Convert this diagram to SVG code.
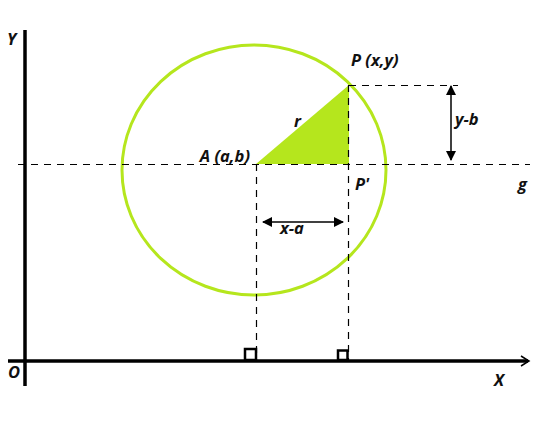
<svg xmlns="http://www.w3.org/2000/svg" width="539" height="432" viewBox="0 0 539 432">
<defs>
<style>
.lbl{font-family:"Open Sans","DejaVu Sans",sans-serif;font-style:italic;font-weight:bold;font-size:16.5px;fill:#111}
.dash{stroke:#000;stroke-width:1.2;stroke-dasharray:7,6;fill:none}
.axis{stroke:#000;stroke-width:3.5;fill:none}
</style>
<marker id="ah" viewBox="0 0 10 10" refX="9" refY="5" markerWidth="10" markerHeight="10" markerUnits="userSpaceOnUse" orient="auto-start-reverse">
<path d="M0,0 L10,5 L0,10 z" fill="#000"/>
</marker>
</defs>
<rect width="539" height="432" fill="#fff"/>
<g id="circle">
<ellipse cx="254" cy="170" rx="132" ry="125" fill="none" stroke="#b5e61d" stroke-width="3"/>
</g>
<g id="triangle">
<polygon points="256,164 349,85 349,164" fill="#b5e61d"/>
</g>
<g id="connectors">
<line class="dash" x1="18" y1="164.5" x2="530" y2="164.5"/>
<line class="dash" x1="256.5" y1="164" x2="256.5" y2="361"/>
<line class="dash" x1="348.5" y1="85" x2="348.5" y2="361"/>
<line class="dash" x1="349" y1="85.5" x2="458" y2="85.5"/>
<line x1="263" y1="222" x2="343" y2="222" stroke="#000" stroke-width="1.5" marker-start="url(#ah)" marker-end="url(#ah)"/>
<line x1="451" y1="86" x2="451" y2="160" stroke="#000" stroke-width="1.5" marker-start="url(#ah)" marker-end="url(#ah)"/>
</g>
<g id="axes">
<line class="axis" x1="25" y1="30" x2="25" y2="386"/>
<line class="axis" x1="8" y1="361" x2="528" y2="361"/>
<path d="M521,356 L529,361 L521,366" fill="none" stroke="#000" stroke-width="1.5"/>
</g>
<g id="squares">
<rect x="245" y="349" width="11" height="11" fill="#fff" stroke="#000" stroke-width="2.5"/>
<rect x="338" y="350.5" width="9.5" height="9.5" fill="#fff" stroke="#000" stroke-width="2.5"/>
</g>
<g id="labels">
<text class="lbl" x="7" y="45">Y</text>
<text class="lbl" x="8" y="378">O</text>
<text class="lbl" x="494" y="386">X</text>
<text class="lbl" x="351" y="66">P (x,y)</text>
<text class="lbl" x="250" y="162" text-anchor="end">A (a,b)</text>
<text class="lbl" x="294" y="127">r</text>
<text class="lbl" x="355" y="190">P'</text>
<text class="lbl" x="280" y="234">x-a</text>
<text class="lbl" x="455" y="125">y-b</text>
<text class="lbl" x="518" y="190">g</text>
</g>
</svg>
